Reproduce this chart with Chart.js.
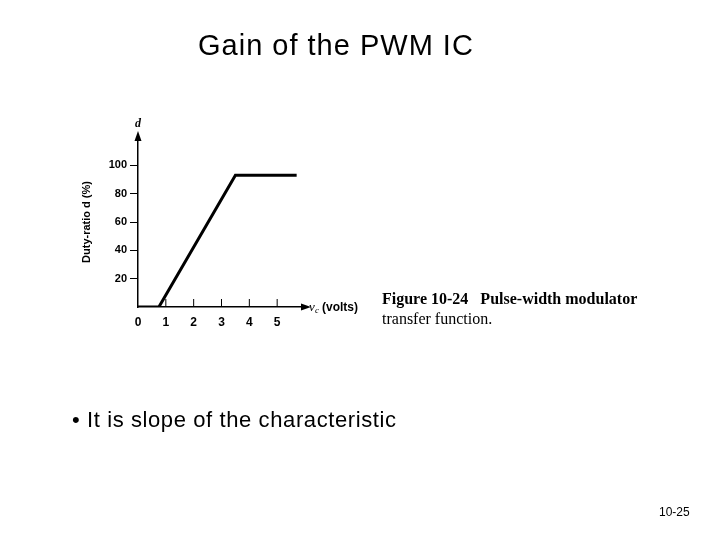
<!DOCTYPE html>
<html>
<head>
<meta charset="utf-8">
<script src="https://cdn.jsdelivr.net/npm/chart.js@4"></script>
<style>
  body { margin: 0; background: #fff; }
  #wrap { position: relative; width: 720px; height: 540px; overflow: hidden; }
  #c { position: absolute; left: 0; top: 0; }
  .t { position: absolute; white-space: nowrap; color: #000; }
</style>
</head>
<body>
<div id="wrap">
  <canvas id="c" width="720" height="540"></canvas>
  <div class="t" style="left:198px;top:29px;font:29px 'Liberation Sans',Arial,sans-serif;letter-spacing:1px;">Gain of the PWM IC</div>
  <div class="t" style="left:382px;top:290px;font:bold 16px 'Liberation Serif','Times New Roman',serif;">Figure 10-24&nbsp;&nbsp;&nbsp;Pulse-width modulator</div>
  <div class="t" style="left:382px;top:310px;font:16px 'Liberation Serif','Times New Roman',serif;">transfer function.</div>
  <div class="t" style="left:72px;top:407px;font:22px 'Liberation Sans',Arial,sans-serif;letter-spacing:0.6px;">• It is slope of the characteristic</div>
  <div class="t" style="left:659px;top:505px;font:12px 'Liberation Sans',Arial,sans-serif;">10-25</div>
</div>
<script>
// transfer characteristic: control voltage (V) vs duty ratio (%)
var vc = [0, 0.75, 3.5, 5.7];
var duty = [0, 0, 93, 93];
var xTicks = [0, 1, 2, 3, 4, 5];
var yTicks = [20, 40, 60, 80, 100];

var points = vc.map(function(v, i) { return { x: v, y: duty[i] }; });

// arrows on the axes, inward x tick marks and the axis names
var axisDecor = {
  id: 'axisDecor',
  afterDraw: function(chart) {
    var ctx = chart.ctx, a = chart.chartArea;
    var x0 = chart.scales.x.getPixelForValue(0);
    var y0 = chart.scales.y.getPixelForValue(0);
    ctx.save();
    ctx.strokeStyle = '#000';
    ctx.lineWidth = 1;
    xTicks.forEach(function(v) {
      if (v === 0) return;
      var px = chart.scales.x.getPixelForValue(v);
      ctx.beginPath(); ctx.moveTo(px, y0); ctx.lineTo(px, y0 - 8); ctx.stroke();
    });
    ctx.fillStyle = '#000';
    ctx.beginPath();
    ctx.moveTo(x0, a.top - 6); ctx.lineTo(x0 - 3.5, a.top + 4); ctx.lineTo(x0 + 3.5, a.top + 4);
    ctx.fill();
    ctx.beginPath();
    ctx.moveTo(a.right + 6, y0); ctx.lineTo(a.right - 4, y0 - 3.5); ctx.lineTo(a.right - 4, y0 + 3.5);
    ctx.fill();
    ctx.font = 'italic bold 12px "Liberation Serif", serif';
    ctx.textAlign = 'center';
    ctx.fillText('d', x0, a.top - 10);
    ctx.textAlign = 'left';
    ctx.textBaseline = 'middle';
    ctx.font = 'italic 13px "Liberation Serif", serif';
    ctx.fillText('v', a.right + 4, y0 + 1);
    ctx.font = 'italic 9px "Liberation Serif", serif';
    ctx.fillText('c', a.right + 10, y0 + 4);
    ctx.font = 'bold 12px "Liberation Sans", Arial, sans-serif';
    ctx.fillText('(volts)', a.right + 17, y0 + 1);
    ctx.restore();
  }
};

new Chart(document.getElementById('c'), {
  type: 'scatter',
  data: {
    datasets: [{
      data: points,
      showLine: true,
      borderColor: '#000',
      borderWidth: 3,
      pointRadius: 0,
      tension: 0
    }]
  },
  options: {
    responsive: false,
    animation: false,
    layout: { padding: { left: 78, right: 415, top: 137, bottom: 205 } },
    plugins: { legend: { display: false }, tooltip: { enabled: false } },
    scales: {
      x: {
        min: 0, max: 6,
        afterFit: function(s) { s.height = 28; },
        afterBuildTicks: function(s) { s.ticks = xTicks.map(function(v) { return { value: v }; }); },
        border: { color: '#000', width: 1.5 },
        grid: { drawOnChartArea: false, drawTicks: false, tickLength: 6 },
        ticks: { color: '#000', font: { family: 'Liberation Sans', size: 12, weight: 'bold' }, padding: 8 }
      },
      y: {
        min: 0, max: 120,
        afterFit: function(s) { s.width = 60; },
        afterBuildTicks: function(s) { s.ticks = yTicks.map(function(v) { return { value: v }; }); },
        border: { color: '#000', width: 1.5 },
        grid: { drawOnChartArea: false, color: '#000', tickLength: 8, lineWidth: 1 },
        title: { display: true, text: 'Duty-ratio d (%)', color: '#000', padding: 2,
                 font: { family: 'Liberation Sans', size: 11, weight: 'bold' } },
        ticks: { color: '#000', font: { family: 'Liberation Sans', size: 11, weight: 'bold' }, padding: 3 }
      }
    }
  },
  plugins: [axisDecor]
});
</script>
</body>
</html>
